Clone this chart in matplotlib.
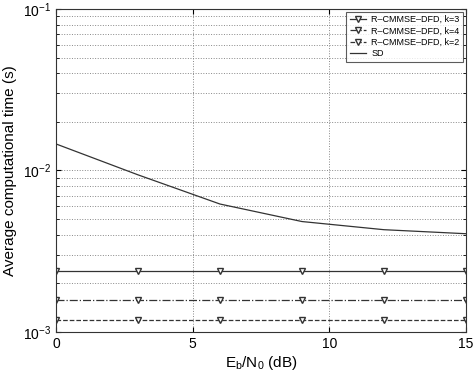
import numpy as np
import matplotlib.pyplot as plt

plt.rcParams['font.family'] = ['Liberation Sans', 'DejaVu Sans']

# data
snr = [0, 3, 6, 9, 12, 15]
sd_time = [0.0146, 0.0094, 0.0062, 0.00483, 0.0043, 0.00406]
k3_time = [0.00238] * 6
k4_time = [0.00158] * 6
k2_time = [0.00118] * 6

fig = plt.figure(figsize=(4.74, 3.71), dpi=100)
ax = fig.add_axes([0.118, 0.105, 0.865, 0.871])

mk = dict(marker='v', markerfacecolor='white', markeredgecolor='#333333', markersize=5, color='#333333', linewidth=0.9)
ax.semilogy(snr, k3_time, linestyle='-', label='R\u2013CMMSE\u2013DFD, k=3', **mk)
ax.semilogy(snr, k4_time, linestyle='-.', label='R\u2013CMMSE\u2013DFD, k=4', **mk)
ax.semilogy(snr, k2_time, linestyle='--', label='R\u2013CMMSE\u2013DFD, k=2', **mk)
ax.semilogy(snr, sd_time, linestyle='-', color='#333333', linewidth=0.9, label='SD')

ax.set_xlim(0, 15)
ax.set_ylim(1e-3, 1e-1)
ax.set_xticks([0, 5, 10, 15])
ax.grid(True, which='both', linestyle=':', color='#888888', linewidth=0.7)
ax.tick_params(which='both', direction='in', top=True, right=True, labelsize=10)
for s in ax.spines.values():
    s.set_color('#333333')

ax.set_xlabel('E$_\\mathregular{b}$/N$_\\mathregular{0}$ (dB)', fontsize=11, labelpad=2)
ax.set_ylabel('Average computational time (s)', fontsize=11)

leg = ax.legend(loc='upper right', fontsize=6.5, frameon=True, fancybox=False, numpoints=1,
                edgecolor='#333333', handlelength=1.8, borderpad=0.4, labelspacing=0.25,
                borderaxespad=0.3, handletextpad=0.6)
leg.get_frame().set_linewidth(0.8)

fig.savefig('out.png', dpi=100)
